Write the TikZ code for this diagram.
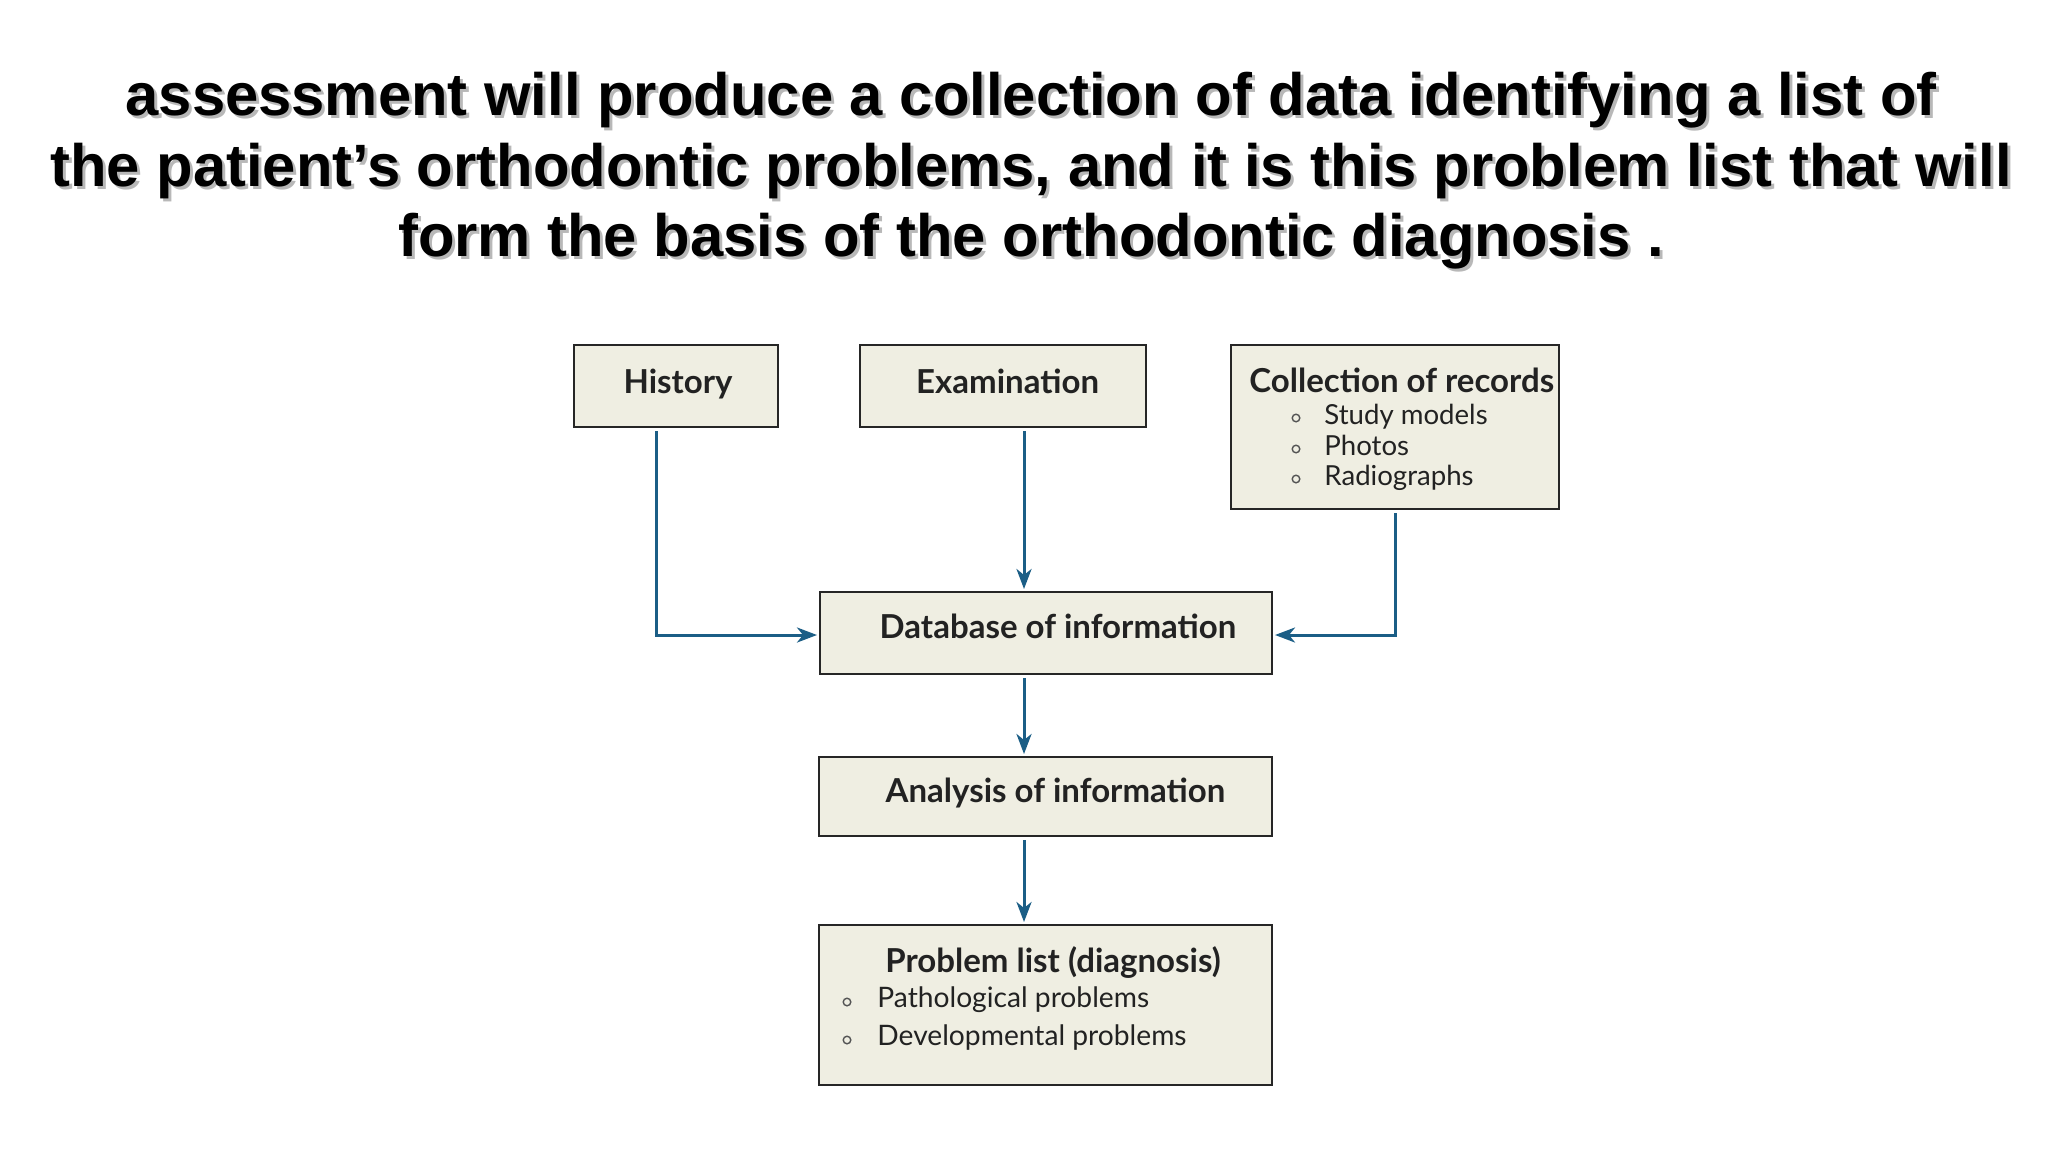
\documentclass[tikz,border=0pt]{standalone}
\usepackage{fontspec}
\setmainfont{Liberation Sans}
\newfontfamily\latofont{Lato}
\usetikzlibrary{arrows.meta}
\definecolor{boxfill}{HTML}{EFEEE2}
\definecolor{arrowblue}{HTML}{1B5E86}
\definecolor{bulletgray}{HTML}{555555}
\definecolor{boxtext}{HTML}{222222}
\begin{document}
\begin{tikzpicture}[x=0.5pt,y=-0.5pt,
  titletext/.style={font=\fontsize{29.9}{35}\selectfont\bfseries, text=black, anchor=base, inner sep=0pt},
  titleshade/.style={titletext, text=black!28},
  box/.style={draw=black!85, line width=1pt, fill=boxfill, inner sep=0pt},
  headA/.style={font=\latofont\bfseries\fontsize{16.5}{19}\selectfont, text=boxtext, text height=11pt, text depth=4pt},
  headB/.style={font=\latofont\bfseries\fontsize{16.5}{19}\selectfont, text=boxtext, text height=10pt, text depth=4.5pt},
  headC/.style={font=\latofont\bfseries\fontsize{16.5}{19}\selectfont, text=boxtext, anchor=base west, inner sep=0pt},
  itemS/.style={font=\latofont\fontsize{13.8}{16}\selectfont, text=boxtext, anchor=base west, inner sep=0pt},
  itemL/.style={font=\latofont\fontsize{14.1}{16}\selectfont, text=boxtext, anchor=base west, inner sep=0pt},
  bul/.style={circle, draw=bulletgray, line width=0.7pt, minimum size=3.8pt, inner sep=0pt},
  arr/.style={draw=arrowblue, line width=1.5pt, -{Stealth[length=10pt, width=7.5pt, inset=3pt]}, shorten <=1.5pt, shorten >=1pt}
]
\useasboundingbox (0,0) rectangle (2048,1152);
\fill[white] (0,0) rectangle (2048,1152);

% title shadow
\node[titleshade] (t1s) at (1034,118) {assessment will produce a collection of data identifying a list of};
\node[titleshade] (t2s) at (1034,189) {the patient’s orthodontic problems, and it is this problem list that will};
\node[titleshade] (t3s) at (1034,259) {form the basis of the orthodontic diagnosis .};
% title
\node[titletext] (t1) at (1031,115) {assessment will produce a collection of data identifying a list of};
\node[titletext] (t2) at (1031,186) {the patient’s orthodontic problems, and it is this problem list that will};
\node[titletext] (t3) at (1031,256) {form the basis of the orthodontic diagnosis .};

% boxes
\node[box, headA, minimum width=102pt, minimum height=41pt] (hist) at (676,386) {\hspace*{2pt}History};
\node[box, headA, minimum width=143pt, minimum height=41pt] (exam) at (1003,386) {\hspace*{4.6pt}Examination};
\node[box, minimum width=164pt, minimum height=82pt] (coll) at (1395,427) {};
\node[box, headB, minimum width=226pt, minimum height=41pt] (db) at (1046,633) {\hspace*{12pt}Database of information};
\node[box, headB, minimum width=226.5pt, minimum height=39.5pt] (an) at (1045.5,796.5) {\hspace*{10pt}Analysis of information};
\node[box, minimum width=226.5pt, minimum height=80pt] (pl) at (1045.5,1005) {};

% collection content
\node[headC] (collh) at (1249,392) {Collection of records};
\node[bul] (cb1) at (1296,418) {};
\node[itemS] (ci1) at (1324,424) {Study models};
\node[bul] (cb2) at (1296,449) {};
\node[itemS] (ci2) at (1324,455) {Photos};
\node[bul] (cb3) at (1296,479) {};
\node[itemS] (ci3) at (1324,485) {Radiographs};

% problem list content
\node[headC] (plh) at (885,972) {Problem list (diagnosis)};
\node[bul] (pb1) at (847,1002) {};
\node[itemL] (pi1) at (877,1007) {Pathological problems};
\node[bul] (pb2) at (847,1040) {};
\node[itemL] (pi2) at (877,1045) {Developmental problems};

% connectors
\draw[arr] ([xshift=-10pt]hist.south) |- ([yshift=-1pt]db.west);
\draw[arr] ([xshift=10.5pt]exam.south) -- ([xshift=10.5pt]exam.south |- db.north);
\draw[arr] (coll.south) |- ([yshift=-1pt]db.east);
\draw[arr] ([xshift=-11pt]db.south) -- ([xshift=-11pt]db.south |- an.north);
\draw[arr] ([xshift=-10.75pt]an.south) -- ([xshift=-10.75pt]an.south |- pl.north);
\end{tikzpicture}
\end{document}
